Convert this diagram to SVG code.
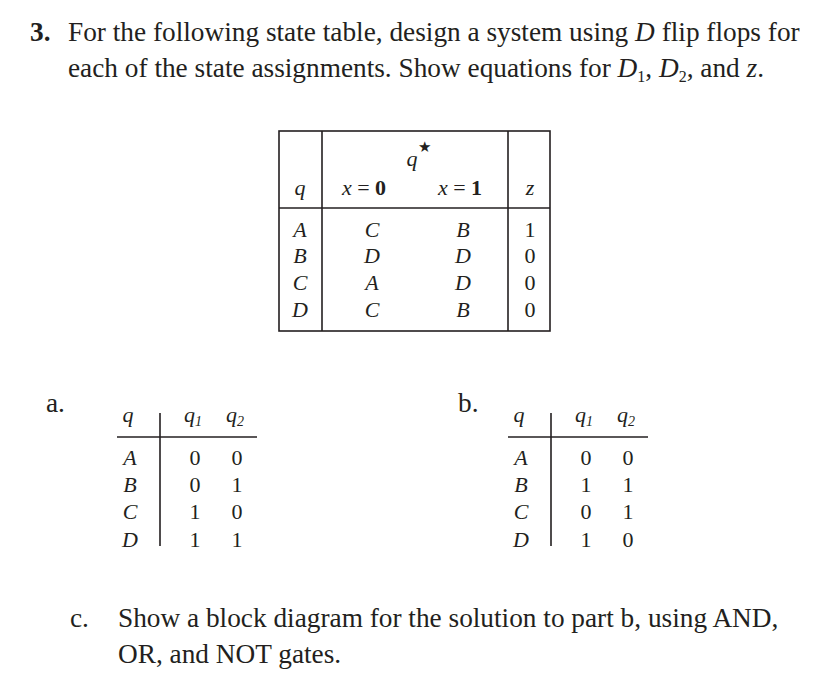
<svg xmlns="http://www.w3.org/2000/svg" width="836" height="694" viewBox="0 0 836 694">
<style>
text{font-family:"Liberation Serif",serif;fill:#231f20}
.t{font-size:27.3px}
.c{font-size:22px;text-anchor:middle}
.i{font-style:italic}
.s{font-size:14px}
line,rect{stroke:#231f20;stroke-width:1.6;fill:none}
</style>
<rect width="836" height="694" fill="#fff" style="stroke:none"/>
<text class="t" x="30" y="41"><tspan font-weight="bold">3.</tspan><tspan x="68">For the following state table, design a system using </tspan><tspan class="i">D</tspan> flip flops for</text>
<text class="t" x="68" y="77">each of the state assignments. Show equations for <tspan class="i">D</tspan><tspan font-size="16" dy="5">1</tspan><tspan dy="-5">, </tspan><tspan class="i">D</tspan><tspan font-size="16" dy="5">2</tspan><tspan dy="-5">, and </tspan><tspan class="i">z</tspan>.</text>
<g id="statetable">
<rect x="279" y="131" width="271" height="200"/>
<line x1="322" y1="131" x2="322" y2="331"/>
<line x1="508" y1="131" x2="508" y2="331"/>
<line x1="279" y1="208" x2="550" y2="208"/>
<text class="c i" x="412" y="166" font-size="24">q</text><text x="418" y="152" font-size="15" font-family="DejaVu Sans">★</text>
<text class="c i" x="300" y="195">q</text>
<text class="c" x="364" y="195"><tspan class="i">x</tspan> = <tspan font-weight="bold">0</tspan></text>
<text class="c" x="460" y="195"><tspan class="i">x</tspan> = <tspan font-weight="bold">1</tspan></text>
<text class="c i" x="530" y="195">z</text>
<text class="c i" x="300" y="237">A</text><text class="c i" x="372" y="237">C</text><text class="c i" x="463" y="237">B</text><text class="c" x="530" y="237">1</text>
<text class="c i" x="300" y="263">B</text><text class="c i" x="372" y="263">D</text><text class="c i" x="463" y="263">D</text><text class="c" x="530" y="263">0</text>
<text class="c i" x="300" y="290">C</text><text class="c i" x="372" y="290">A</text><text class="c i" x="463" y="290">D</text><text class="c" x="530" y="290">0</text>
<text class="c i" x="300" y="317">D</text><text class="c i" x="372" y="317">C</text><text class="c i" x="463" y="317">B</text><text class="c" x="530" y="317">0</text>
</g>
<g id="tableA">
<text class="t" x="46" y="412" font-size="24">a.</text>
<line x1="160" y1="413" x2="160" y2="546"/>
<line x1="117" y1="437" x2="257" y2="437"/>
<text class="c i" x="128" y="422">q</text>
<text class="c i" x="193" y="422">q<tspan class="s" dy="4">1</tspan></text>
<text class="c i" x="235" y="422">q<tspan class="s" dy="4">2</tspan></text>
<text class="c i" x="130" y="465">A</text><text class="c" x="195" y="465">0</text><text class="c" x="237" y="465">0</text>
<text class="c i" x="130" y="492">B</text><text class="c" x="195" y="492">0</text><text class="c" x="237" y="492">1</text>
<text class="c i" x="130" y="519">C</text><text class="c" x="195" y="519">1</text><text class="c" x="237" y="519">0</text>
<text class="c i" x="130" y="547">D</text><text class="c" x="195" y="547">1</text><text class="c" x="237" y="547">1</text>
</g>
<g id="tableB">
<text class="t" x="458" y="412" font-size="24">b.</text>
<line x1="551" y1="413" x2="551" y2="546"/>
<line x1="508" y1="437" x2="648" y2="437"/>
<text class="c i" x="519" y="422">q</text>
<text class="c i" x="584" y="422">q<tspan class="s" dy="4">1</tspan></text>
<text class="c i" x="626" y="422">q<tspan class="s" dy="4">2</tspan></text>
<text class="c i" x="521" y="465">A</text><text class="c" x="586" y="465">0</text><text class="c" x="628" y="465">0</text>
<text class="c i" x="521" y="492">B</text><text class="c" x="586" y="492">1</text><text class="c" x="628" y="492">1</text>
<text class="c i" x="521" y="519">C</text><text class="c" x="586" y="519">0</text><text class="c" x="628" y="519">1</text>
<text class="c i" x="521" y="547">D</text><text class="c" x="586" y="547">1</text><text class="c" x="628" y="547">0</text>
</g>
<text class="t" x="70" y="627" font-size="24">c.</text>
<text class="t" x="118" y="627">Show a block diagram for the solution to part b, using AND,</text>
<text class="t" x="118" y="663">OR, and NOT gates.</text>
</svg>
